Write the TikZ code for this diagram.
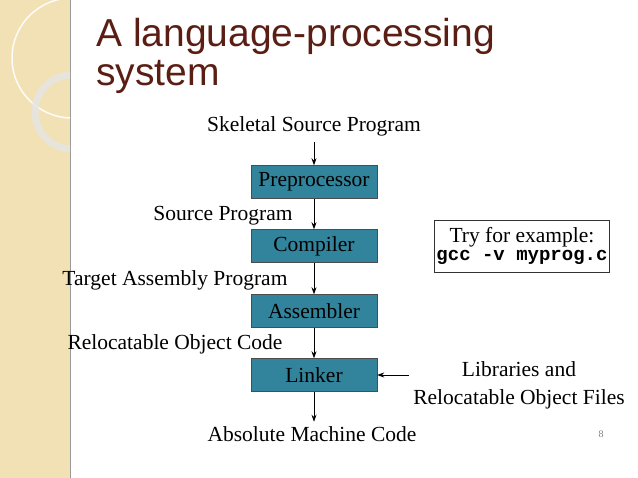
\documentclass[tikz,border=0pt]{standalone}
\usepackage{fontspec}
\usetikzlibrary{arrows.meta}
\setmainfont{Liberation Serif}
\newfontfamily\titlefont{Liberation Sans}
\setmonofont{Liberation Mono}
\definecolor{strip}{HTML}{F2E1B4}
\definecolor{boxc}{HTML}{31849B}
\definecolor{titlec}{HTML}{5A1E14}
\begin{document}
\begin{tikzpicture}[x=1pt,y=-1pt,
  proc/.style={draw=black!70,fill=boxc,minimum width=126pt,minimum height=33pt,inner sep=0pt,font=\fontsize{21.5}{24}\selectfont},
  lbl/.style={font=\fontsize{21.5}{24}\selectfont,inner sep=0pt},
  arr/.style={-{Stealth[length=7pt,width=5pt]},thick}]
\useasboundingbox (0,0) rectangle (638,478);
\fill[strip] (0,0) rectangle (70,478);
\draw[black!40] (70,0) -- (70,478);
\begin{scope}
\clip (0,0) rectangle (70,478);
\draw[white!90!strip,line width=1.5pt] (72,58) circle (60);
\draw[white!80!gray,line width=7pt,opacity=0.8] (72,112) circle (37);
\end{scope}
\node[anchor=base west,text=titlec,font=\titlefont\fontsize{39}{42}\selectfont,inner sep=0pt] (t1) at (96,47) {A language-processing};
\node[anchor=base west,text=titlec,font=\titlefont\fontsize{39}{42}\selectfont,inner sep=0pt] (t2) at (96,86) {system};
\node[lbl] (src0) at (314,126) {Skeletal Source Program};
\node[proc] (pre) at (314,182) {Preprocessor};
\node[proc] (com) at (314,246) {Compiler};
\node[proc] (asm) at (314,311) {Assembler};
\node[proc] (lnk) at (314,375) {Linker};
\node[lbl] (l1) at (223,216) {Source Program};
\node[lbl] (l2) at (175,280) {Target Assembly Program};
\node[lbl] (l3) at (175,344) {Relocatable Object Code};
\node[lbl] (out) at (312,434) {Absolute Machine Code};
\node[lbl,align=center] (lib) at (519,385) {Libraries and\\[4pt]Relocatable Object Files};
\node[draw=black!80,fill=white,align=center,minimum width=175pt,minimum height=52pt,inner sep=2pt] (try) at (522,246)
  {{\fontsize{21.5}{24}\selectfont Try for example:}\\[3pt]{\ttfamily\bfseries\fontsize{19}{21}\selectfont gcc -v myprog.c}};
\node[text=gray,font=\fontsize{10}{12}\selectfont] (pg) at (601,434) {8};
\draw[arr] (src0.south -| pre.north) ++(0,6) -- (pre.north);
\draw[arr] (pre) -- (com);
\draw[arr] (com) -- (asm);
\draw[arr] (asm) -- (lnk);
\draw[arr] (lnk.south) -- ++(0,30);
\draw[arr] (lib.west |- lnk) ++(-4,0) -- (lnk.east);
\end{tikzpicture}
\end{document}
